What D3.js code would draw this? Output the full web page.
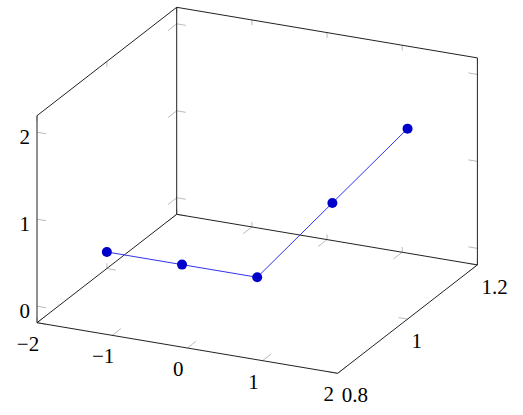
<!DOCTYPE html>
<html><head><meta charset="utf-8">
<script src="https://cdn.jsdelivr.net/npm/d3@7"></script>
<style>body{margin:0;background:#fff}text{font-family:"Liberation Serif",serif;font-size:21px;fill:#000}</style>
</head><body><svg id="c" width="523" height="415"></svg>
<script>
// data
var xs = [-2, -1, 0, 1, 2];
var ys = [1, 1, 1, 1, 1];
var zs = [0, 0, 0, 1, 2];
var xTicks = [-2, -1, 0, 1, 2];
var yTicks = [0.8, 1, 1.2];
var zTicks = [0, 1, 2];

var svg = d3.select('#c');
// axis scales to unit fractions
var fx = d3.scaleLinear().domain([-2, 2]).range([0, 1]);
var fy = d3.scaleLinear().domain([0.8, 1.2]).range([0, 1]);
var fz = d3.scaleLinear().domain([-0.19, 2.19]).range([0, 1]);
var O = [37, 322.7], Ex = [300.7, 50.6], Ey = [139.7, -108.4], Ez = [0, -207];
function P(x, y, z) {
  var a = fx(x), b = fy(y), c = fz(z);
  return [O[0] + a*Ex[0] + b*Ey[0] + c*Ez[0], O[1] + a*Ex[1] + b*Ey[1] + c*Ez[1]];
}
var X0 = -2, X1 = 2, Y0 = 0.8, Y1 = 1.2, Z0 = -0.19, Z1 = 2.19;
function seg(p, q, col, w) {
  svg.append('line').attr('x1', p[0]).attr('y1', p[1]).attr('x2', q[0]).attr('y2', q[1])
    .attr('stroke', col).attr('stroke-width', w);
}
// grey ticks on back walls
var g = '#bbb';
xTicks.forEach(function(t) {
  seg(P(t, Y1, Z0), P(t, Y1 - 0.025, Z0), g, 1);
  seg(P(t, Y1, Z0), P(t, Y1, Z0 + 0.06), g, 1);
  seg(P(t, Y1, Z1), P(t, Y1, Z1 - 0.06), g, 1);
  seg(P(t, Y0, Z0), P(t, Y0 + 0.025, Z0), g, 1);
});
yTicks.forEach(function(t) {
  seg(P(X0, t, Z0), P(X0 + 0.12, t, Z0), g, 1);
  seg(P(X0, t, Z0), P(X0, t, Z0 + 0.06), g, 1);
  seg(P(X1, t, Z0), P(X1 - 0.12, t, Z0), g, 1);
  seg(P(X0, t, Z1), P(X0, t, Z1 - 0.06), g, 1);
});
zTicks.forEach(function(t) {
  seg(P(X0, Y0, t), P(X0 + 0.12, Y0, t), g, 1);
  seg(P(X0, Y1, t), P(X0 + 0.12, Y1, t), g, 1);
  seg(P(X0, Y1, t), P(X0, Y1 - 0.025, t), g, 1);
  seg(P(X1, Y1, t), P(X1 - 0.12, Y1, t), g, 1);
});
// box edges
var k = '#222';
[[[X0,Y0,Z0],[X1,Y0,Z0]],[[X1,Y0,Z0],[X1,Y1,Z0]],[[X0,Y0,Z0],[X0,Y0,Z1]],
 [[X0,Y0,Z1],[X0,Y1,Z1]],[[X0,Y1,Z1],[X1,Y1,Z1]],[[X1,Y1,Z1],[X1,Y1,Z0]],
 [[X0,Y1,Z0],[X0,Y1,Z1]],[[X0,Y1,Z0],[X0,Y0,Z0]],[[X0,Y1,Z0],[X1,Y1,Z0]]]
 .forEach(function(e) { seg(P.apply(null, e[0]), P.apply(null, e[1]), k, 1); });
// labels
function fmt(v) { return (v < 0 ? '\u2212' : '') + Math.abs(v); }
xTicks.forEach(function(t) {
  var p = P(t, Y0, Z0);
  svg.append('text').attr('x', p[0] - 9).attr('y', p[1] + 28).attr('text-anchor', 'middle').text(fmt(t));
});
yTicks.forEach(function(t) {
  var p = P(X1, t, Z0);
  svg.append('text').attr('x', p[0] + 4).attr('y', p[1] + 29).attr('text-anchor', 'start').text(String(t));
});
zTicks.forEach(function(t) {
  var p = P(X0, Y0, t);
  svg.append('text').attr('x', p[0] - 7).attr('y', p[1] + 12).attr('text-anchor', 'end').text(fmt(t));
});
// series
var pts = xs.map(function(x, i) { return P(x, ys[i], zs[i]); });
svg.append('path').attr('d', d3.line()(pts)).attr('fill', 'none').attr('stroke', '#3333ee').attr('stroke-width', 1);
svg.selectAll('circle.pt').data(pts).enter().append('circle')
  .attr('cx', function(d) { return d[0]; }).attr('cy', function(d) { return d[1]; })
  .attr('r', 5).attr('fill', '#0000cc');
</script></body></html>
